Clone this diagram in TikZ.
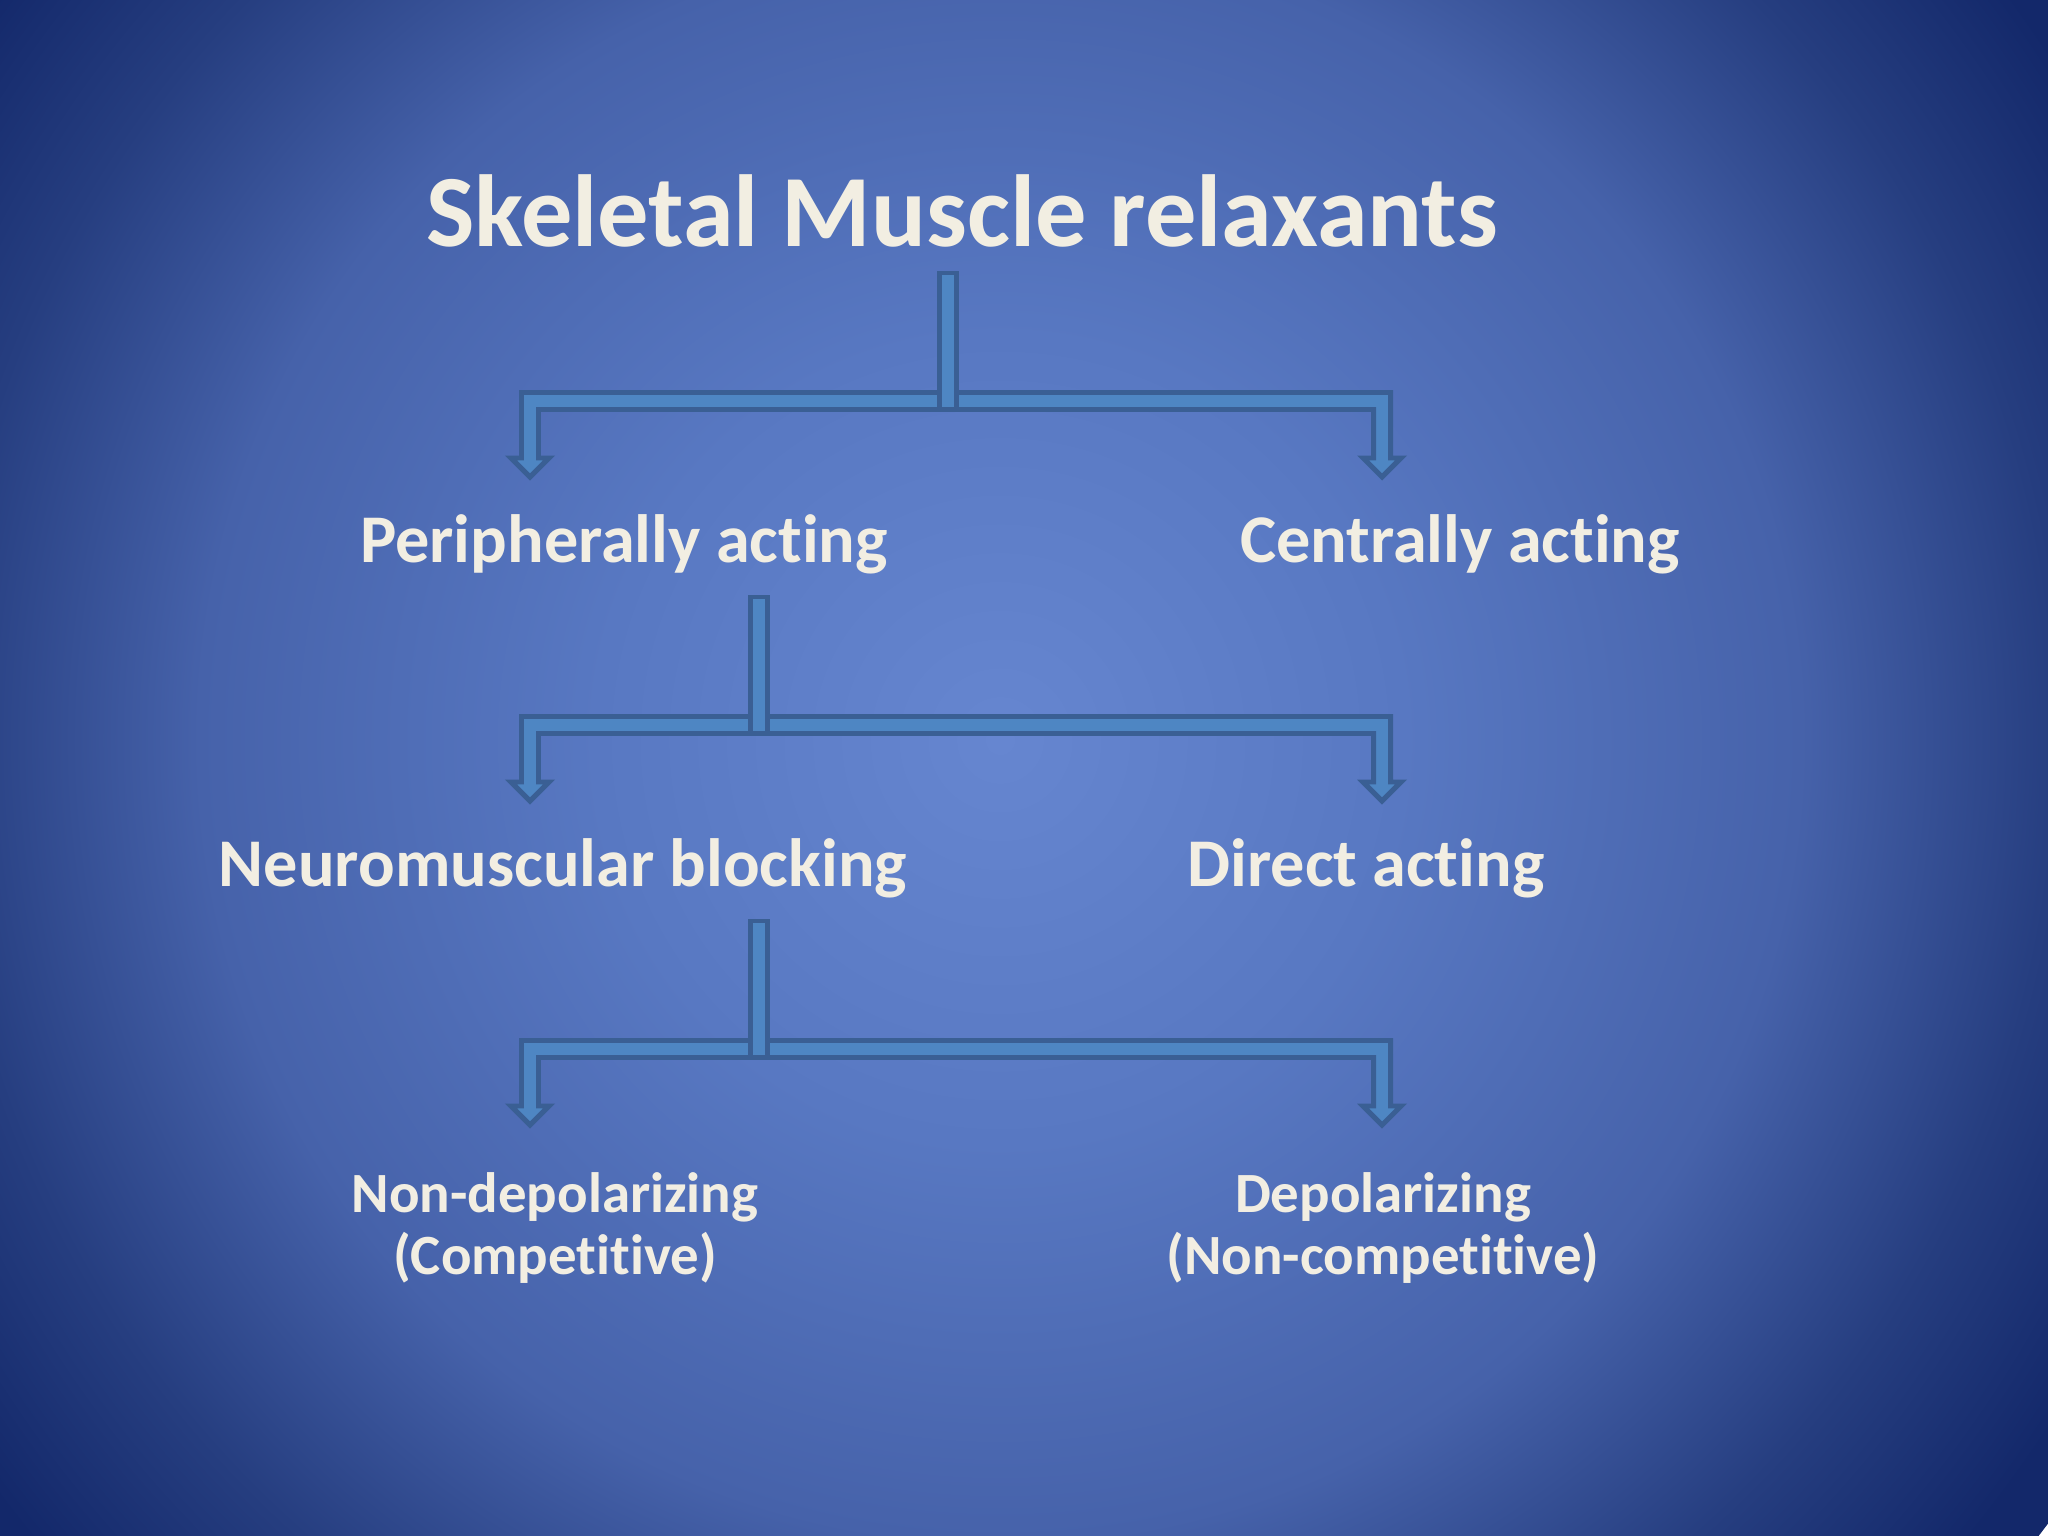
\documentclass[tikz,border=0pt]{standalone}
\usepackage{fontspec}
\setmainfont{Carlito}[Ligatures=NoCommon]
\definecolor{bgA}{HTML}{6686D0}
\definecolor{bgB}{HTML}{5878C2}
\definecolor{bgC}{HTML}{4662AA}
\definecolor{bgD}{HTML}{263E80}
\definecolor{bgE}{HTML}{13286A}
\definecolor{txtcol}{HTML}{F2EEE2}
\definecolor{afill}{HTML}{4E86C3}
\definecolor{aedge}{HTML}{3A5F94}
\pgfdeclareradialshading{bgshade}{\pgfpoint{0bp}{0bp}}{color(0bp)=(bgA); color(7.7bp)=(bgB); color(15.3bp)=(bgC); color(20.2bp)=(bgD); color(24bp)=(bgE); color(50bp)=(bgE)}
\tikzset{
  titletext/.style={text=txtcol, font=\bfseries\fontsize{36}{40}\selectfont, anchor=base, inner sep=0pt},
  midtext/.style={text=txtcol, font=\bfseries\fontsize{24}{28}\selectfont, anchor=base, inner sep=0pt},
  lowtext/.style={text=txtcol, font=\bfseries\fontsize{20}{22}\selectfont, align=center, anchor=center, inner sep=0pt},
  conn/.style={fill=afill, draw=aedge, line width=1.75pt, line join=miter},
}
% #1 stem x, #2 bar y, #3 left arrow x, #4 right arrow x
\newcommand\branchpair[4]{%
  \filldraw[conn] (#1,#2-8.5) -- (#3-8.5,#2-8.5) -- (#3-8.5,#2+57) -- (#3-19,#2+57) -- (#3,#2+76)
     -- (#3+19,#2+57) -- (#3+8.5,#2+57) -- (#3+8.5,#2+8.5) -- (#1,#2+8.5) -- cycle;
  \filldraw[conn] (#1,#2-8.5) -- (#4+8.5,#2-8.5) -- (#4+8.5,#2+57) -- (#4+19,#2+57) -- (#4,#2+76)
     -- (#4-19,#2+57) -- (#4-8.5,#2+57) -- (#4-8.5,#2+8.5) -- (#1,#2+8.5) -- cycle;
  \filldraw[conn] (#1-8.5,#2-128) rectangle (#1+8.5,#2+8.5);
}
\begin{document}
\begin{tikzpicture}[x=0.35156pt,y=-0.35156pt]
\useasboundingbox (0,0) rectangle (2048,1536);
\begin{scope}
  \clip (0,0) rectangle (2048,1536);
  \shade[shading=bgshade] (1000,740) circle (460pt);
\end{scope}

% connectors
\branchpair{948}{401}{530}{1382}
\branchpair{759}{725}{530}{1382}
\branchpair{759}{1049}{530}{1382}

% texts
\node[titletext] (title) at (962,247) {Skeletal Muscle relaxants};
\node[midtext] (peri) at (624,562) {Peripherally acting};
\node[midtext] (cent) at (1460,562) {Centrally acting};
\node[midtext] (neuro) at (563,886) {Neuromuscular blocking};
\node[midtext] (direct) at (1366,886) {Direct acting};
\node[lowtext] (nondep) at (555,1228) {Non-depolarizing\\(Competitive)};
\node[lowtext] (dep) at (1383,1228) {Depolarizing\\(Non-competitive)};
\end{tikzpicture}
\end{document}
